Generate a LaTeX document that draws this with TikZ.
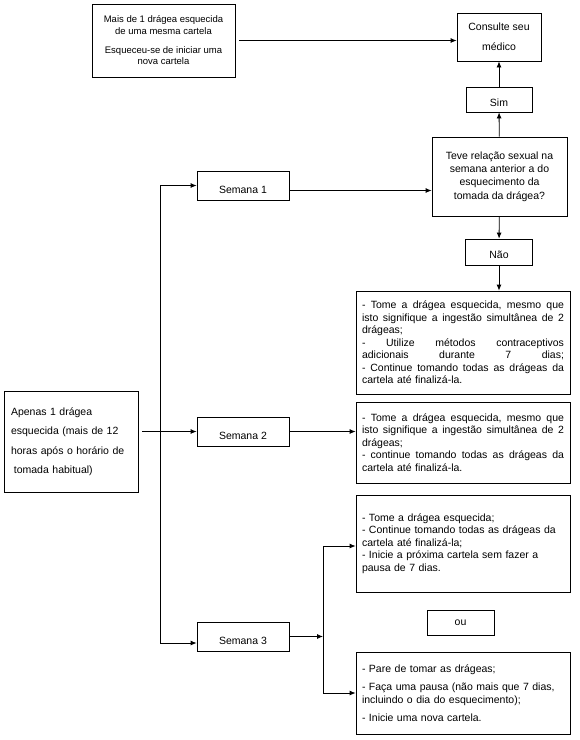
\documentclass[tikz,border=0pt]{standalone}
\usepackage{fontspec}
\setmainfont{Liberation Sans}
\usetikzlibrary{arrows.meta}
\newlength\bw \setlength\bw{202pt}
\newcommand\jl[1]{\leavevmode\hbox to \bw{\frenchspacing\spaceskip=.278em plus 1fil\relax#1}}
\begin{document}
\begin{tikzpicture}[x=1pt,y=-1pt,
  box/.style={draw=black, line width=0.8pt, inner sep=0pt, align=center,
    font=\fontsize{10.5}{12.5}\selectfont},
  lowtext/.style={text height=#1, text depth=0pt},
  arr/.style={-{Latex[length=6pt,width=5pt]}, line width=0.8pt},
  ln/.style={line width=0.8pt}]
\useasboundingbox[fill=white] (0,0) rectangle (580,740);

\node[box, minimum width=143pt, minimum height=73pt, font=\fontsize{9.5}{11.5}\selectfont] (mais) at (163.5,40.5)
  {Mais de 1 drágea esquecida\\de uma mesma cartela\\[7.5pt]Esqueceu-se de iniciar uma\\nova cartela};
\node[box, minimum width=84pt, minimum height=48pt, font=\fontsize{10.5}{20}\selectfont] (consulte) at (499,37)
  {Consulte seu\\médico};
\node[box, minimum width=66pt, minimum height=25pt, lowtext=13pt] (sim) at (499,99.5) {Sim};
\node[box, minimum width=135pt, minimum height=79pt, font=\fontsize{10.5}{13.3}\selectfont] (teve) at (499.5,176.5)
  {Teve relação sexual na\\semana anterior a do\\esquecimento da\\tomada da drágea?};
\node[box, minimum width=67pt, minimum height=26pt, lowtext=13pt] (nao) at (499,252) {Não};
\node[box, minimum width=92pt, minimum height=29pt, lowtext=16pt] (s1) at (243,185.5) {Semana 1};
\node[box, minimum width=92pt, minimum height=29pt, lowtext=16pt] (s2) at (243,431.5) {Semana 2};
\node[box, minimum width=92pt, minimum height=29pt, lowtext=16pt] (s3) at (243,636.5) {Semana 3};

\node[box, minimum width=214pt, minimum height=103pt, text width=\bw, align=left] (boxA) at (463,342.5)
  {\jl{- Tome a drágea esquecida, mesmo que}\\
   \jl{isto signifique a ingestão simultânea de 2}\\
   drágeas;\\
   \jl{- Utilize métodos contraceptivos}\\
   \jl{adicionais durante 7 dias;}\\
   \jl{- Continue tomando todas as drágeas da}\\
   cartela até finalizá-la.};
\node[box, minimum width=134pt, minimum height=101pt, text width=120pt, align=left,
  font=\fontsize{10.5}{19.5}\selectfont] (apenas) at (71,441.5)
  {Apenas 1 drágea\\esquecida (mais de 12\\horas após o horário de\\\hspace*{2.9pt}tomada habitual)};
\node[box, minimum width=214pt, minimum height=81pt, text width=\bw, align=left] (boxB) at (463,442.5)
  {\jl{- Tome a drágea esquecida, mesmo que}\\
   \jl{isto signifique a ingestão simultânea de 2}\\
   drágeas;\\
   \jl{- continue tomando todas as drágeas da}\\
   cartela até finalizá-la.};
\node[box, minimum width=214pt, minimum height=97pt, text width=\bw, align=left] (boxC) at (463,543.5)
  {- Tome a drágea esquecida;\\
   - Continue tomando todas as drágeas da\\
   cartela até finalizá-la;\\
   - Inicie a próxima cartela sem fazer a\\
   pausa de 7 dias.};
\node[box, minimum width=67pt, minimum height=25pt] (ou) at (460.5,622.5) {ou};
\node[box, minimum width=214pt, minimum height=82pt, text width=\bw, align=left] (boxD) at (463,693)
  {- Pare de tomar as drágeas;\\[6pt]
   - Faça uma pausa (não mais que 7 dias,\\
   incluindo o dia do esquecimento);\\[6pt]
   - Inicie uma nova cartela.};

\coordinate (vtop) at (160,185.5);
\coordinate (vbot) at (160,643);
\coordinate (br) at (323,636.5);
\coordinate (bc) at (323,546);
\coordinate (bd) at (323,693);

\draw[arr, shorten <=4pt] (mais.east) -- (mais.east -| consulte.west);
\draw[arr] (sim) -- (consulte);
\draw[arr] (teve) -- (sim);
\draw[arr] (teve) -- (nao);
\draw[arr] (nao.south) -- (nao.south |- boxA.north);
\draw[arr] ([yshift=-5pt]s1.east) -- ([yshift=-5pt]s1.east -| teve.west);
\draw[ln] (vtop) -- (vbot);
\draw[arr] (vtop) -- (s1.west);
\draw[arr] (vbot) -- (vbot -| s3.west);
\draw[arr, shorten <=4pt] (apenas.east |- s2.west) -- (s2.west);
\draw[arr] (s2.east) -- (s2.east -| boxB.west);
\draw[arr] (s3.east) -- (br);
\draw[ln] (bc) -- (bd);
\draw[arr] (bc) -- (bc -| boxC.west);
\draw[arr] (bd) -- (boxD.west);
\end{tikzpicture}
\end{document}
